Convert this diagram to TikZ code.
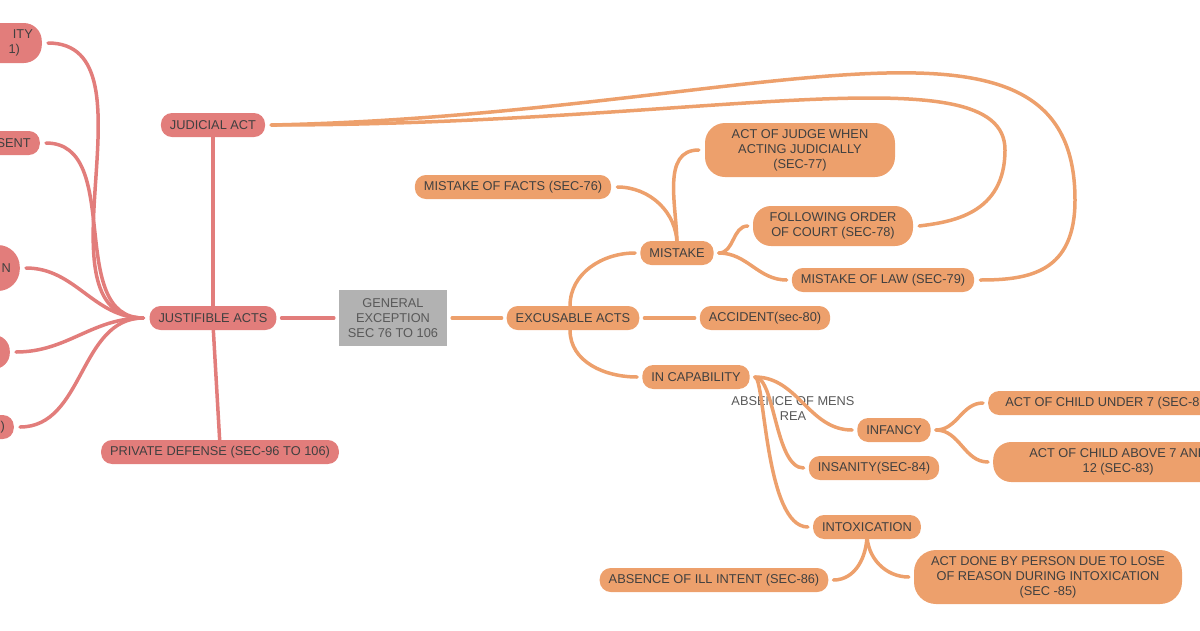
\documentclass[tikz,border=0pt]{standalone}
\usepackage{fontspec}
\setmainfont{Liberation Sans}
\begin{document}
\begin{tikzpicture}[x=1pt,y=-1pt,
  every node/.style={font=\fontsize{12.8}{15}\selectfont, text=black!75, align=center},
  rn/.style={fill=rnc, rounded corners=11pt, inner xsep=9pt, inner ysep=4pt, minimum height=24pt},
  on/.style={fill=onc, rounded corners=11pt, inner xsep=9pt, inner ysep=4pt, minimum height=24pt},
  rl/.style={draw=rnc, line width=3.5pt, line cap=round},
  ol/.style={draw=onc, line width=3.5pt, line cap=round}]
\definecolor{rnc}{HTML}{E27D7B}
\definecolor{onc}{HTML}{EDA06C}
\useasboundingbox (0,0) rectangle (1200,630);
\clip (0,0) rectangle (1200,630);
% left clipped nodes
\node[rn, anchor=east, minimum height=40pt, rounded corners=18pt, align=right, text width=70pt] (l1) at (42,43) {ITY\\1)\,\,\,\,\,\,};
\node[rn, anchor=east, align=right, text width=70pt] (l2) at (40,143) {SENT};
\node[rn, anchor=east, minimum height=46pt, rounded corners=22pt, align=right, text width=70pt] (l3) at (20,268) {N\\ };
\node[rn, anchor=east, minimum height=34pt, rounded corners=16pt, minimum width=80pt] (l4) at (10,352) {};
\node[rn, anchor=east, align=right, text width=70pt] (l5) at (14,427) {5)};
% red nodes
\node[rn] (ja) at (213,125) {JUDICIAL ACT};
\node[rn] (jus) at (213,318) {JUSTIFIBLE ACTS};
\node[rn] (pd) at (220,452) {PRIVATE DEFENSE (SEC-96 TO 106)};
\node[fill=black!30, minimum width=108pt, minimum height=56pt, inner sep=2pt, text=black!65] (ge) at (393,318) {GENERAL\\EXCEPTION\\SEC 76 TO 106};
% orange nodes
\node[on] (ex) at (573,318) {EXCUSABLE ACTS};
\node[on] (acc) at (765,318) {ACCIDENT(sec-80)};
\node[on] (mis) at (677,253) {MISTAKE};
\node[on] (inc) at (696,377) {IN CAPABILITY};
\node[on] (mf) at (513,187) {MISTAKE OF FACTS (SEC-76)};
\node[on, rounded corners=20pt, minimum width=190pt, minimum height=54pt] (aj) at (800,150) {ACT OF JUDGE WHEN\\ACTING JUDICIALLY\\(SEC-77)};
\node[on, rounded corners=18pt, minimum width=160pt, minimum height=40pt] (fo) at (833,226) {FOLLOWING ORDER\\OF COURT (SEC-78)};
\node[on] (ml) at (883,280) {MISTAKE OF LAW (SEC-79)};
\node[text=black!65] (amr) at (793,409) {ABSENCE OF MENS\\REA};
\node[on] (inf) at (894,430) {INFANCY};
\node[on] (ins) at (874,468) {INSANITY(SEC-84)};
\node[on] (int) at (867,527) {INTOXICATION};
\node[on, anchor=west, minimum width=240pt] (c7) at (988,403) {ACT OF CHILD UNDER 7 (SEC-82)};
\node[on, anchor=west, rounded corners=18pt, minimum height=40pt, minimum width=250pt] (c12) at (993,462) {ACT OF CHILD ABOVE 7 AND\\12 (SEC-83)};
\node[on] (ill) at (714,580) {ABSENCE OF ILL INTENT (SEC-86)};
\node[on, rounded corners=22pt, minimum width=268pt, minimum height=54pt] (ad) at (1048,577) {ACT DONE BY PERSON DUE TO LOSE\\OF REASON DURING INTOXICATION\\(SEC -85)};
% red connectors
\coordinate (jw) at ([xshift=-6pt]jus.west);
\foreach \t in {l1,l2,l3,l4,l5} \draw[rl] (jw) to[out=180,in=0] ([xshift=6pt]\t.east);
\draw[rl] ([yshift=-6pt]jus.north) -- ([yshift=6pt]ja.south);
\draw[rl] ([yshift=6pt]jus.south) -- ([yshift=-6pt]pd.north);
\draw[rl] ([xshift=-5pt]ge.west) -- ([xshift=5pt]jus.east);
% orange connectors
\draw[ol] ([xshift=5pt]ge.east) -- ([xshift=-5pt]ex.west);
\draw[ol] ([xshift=6pt]ja.east) .. controls (700,125) and (1005,50) .. (1005,150) .. controls (1005,215) and (950,222) .. ([xshift=6pt]fo.east);
\draw[ol] ([xshift=6pt]ja.east) .. controls (750,115) and (1075,-25) .. (1075,200) .. controls (1075,272) and (1030,280) .. ([xshift=6pt]ml.east);
\draw[ol] (570,306) to[out=90,in=180] ([xshift=-5pt]mis.west);
\draw[ol] (570,330) to[out=-90,in=180] ([xshift=-5pt]inc.west);
\draw[ol] ([xshift=5pt]ex.east) -- ([xshift=-5pt]acc.west);
\draw[ol] ([yshift=-4pt]mis.north) to[out=90,in=0] ([xshift=6pt]mf.east);
\draw[ol] ([yshift=-4pt]mis.north) to[out=90,in=180] ([xshift=-6pt]aj.west);
\draw[ol] ([xshift=5pt]mis.east) to[out=0,in=180] ([xshift=-5pt]fo.west);
\draw[ol] ([xshift=5pt]mis.east) to[out=0,in=180] ([xshift=-5pt]ml.west);
\draw[ol] ([xshift=5pt]inc.east) to[out=0,in=180] ([xshift=-5pt]inf.west);
\draw[ol] ([xshift=5pt]inc.east) .. controls (775,377) and (775,468) .. ([xshift=-5pt]ins.west);
\draw[ol] ([xshift=5pt]inc.east) .. controls (765,377) and (765,527) .. ([xshift=-5pt]int.west);
\draw[ol] ([xshift=5pt]inf.east) to[out=0,in=180] ([xshift=-5pt]c7.west);
\draw[ol] ([xshift=5pt]inf.east) to[out=0,in=180] ([xshift=-5pt]c12.west);
\draw[ol] ([yshift=5pt]int.south) to[out=-90,in=0] ([xshift=5pt]ill.east);
\draw[ol] ([yshift=5pt]int.south) to[out=-90,in=180] ([xshift=-5pt]ad.west);
\end{tikzpicture}
\end{document}
